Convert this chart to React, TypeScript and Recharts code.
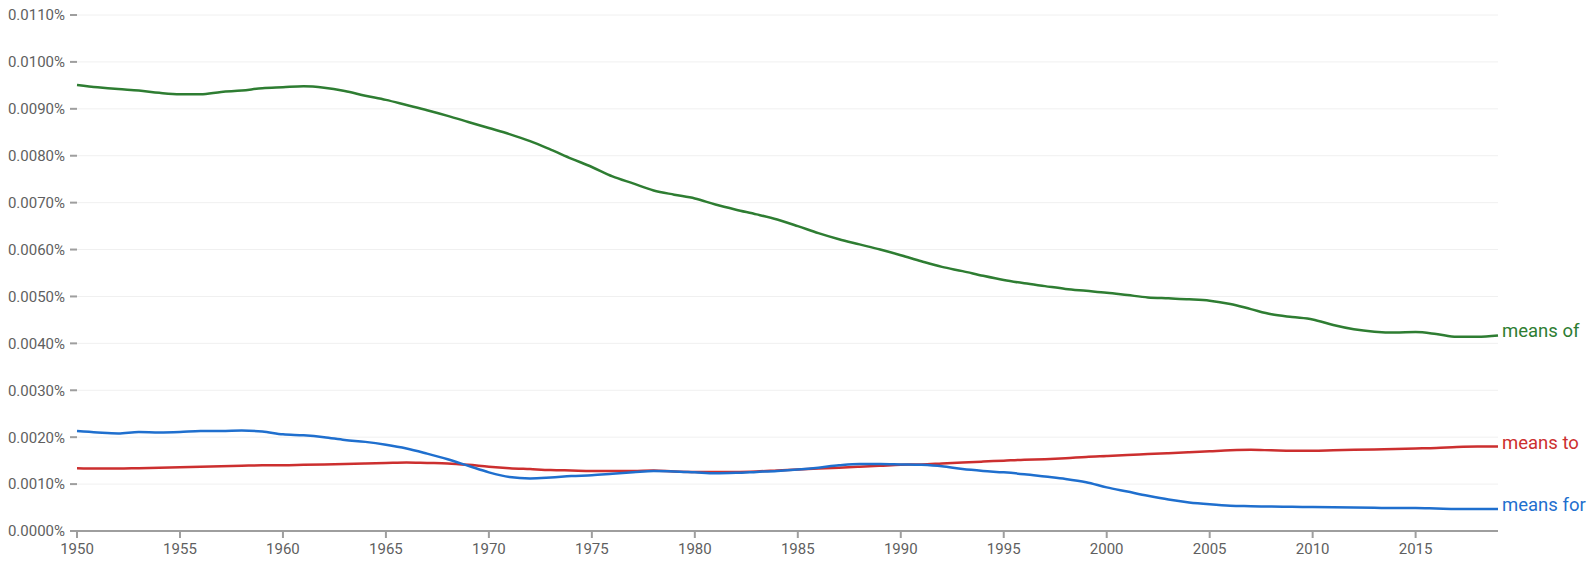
import { LineChart, Line, XAxis, YAxis, CartesianGrid } from "recharts";

// values in units of 0.001 %
const years = Array.from({ length: 70 }, (_, i) => 1950 + i);

const meansOf = [
  9.51, 9.46, 9.42, 9.39, 9.34, 9.31, 9.31, 9.36, 9.39, 9.44,
  9.46, 9.48, 9.45, 9.38, 9.28, 9.19, 9.08, 8.97, 8.85, 8.72,
  8.59, 8.46, 8.31, 8.13, 7.94, 7.76, 7.56, 7.41, 7.26, 7.17,
  7.09, 6.96, 6.85, 6.75, 6.64, 6.5, 6.35, 6.22, 6.11, 6.0,
  5.88, 5.75, 5.63, 5.54, 5.44, 5.35, 5.28, 5.22, 5.16, 5.12,
  5.08, 5.03, 4.98, 4.96, 4.94, 4.91, 4.84, 4.73, 4.62, 4.56,
  4.51, 4.39, 4.3, 4.25, 4.23, 4.24, 4.2, 4.14, 4.14, 4.17,
];

const meansTo = [
  1.34, 1.33, 1.33, 1.34, 1.35, 1.36, 1.37, 1.38, 1.39, 1.4,
  1.4, 1.41, 1.42, 1.43, 1.44, 1.45, 1.46, 1.45, 1.44, 1.41,
  1.37, 1.34, 1.32, 1.3, 1.29, 1.28, 1.28, 1.28, 1.29, 1.27,
  1.26, 1.26, 1.26, 1.27, 1.29, 1.31, 1.33, 1.35, 1.37, 1.39,
  1.41, 1.42, 1.44, 1.46, 1.48, 1.5, 1.52, 1.53, 1.55, 1.58,
  1.6, 1.62, 1.64, 1.66, 1.68, 1.7, 1.72, 1.73, 1.72, 1.71,
  1.71, 1.72, 1.73, 1.74, 1.75, 1.76, 1.77, 1.79, 1.8, 1.8,
];

const meansFor = [
  2.13, 2.1, 2.08, 2.11, 2.1, 2.11, 2.13, 2.13, 2.14, 2.12,
  2.06, 2.04, 2.0, 1.94, 1.9, 1.84, 1.76, 1.65, 1.53, 1.39,
  1.25, 1.15, 1.12, 1.14, 1.17, 1.19, 1.22, 1.25, 1.28, 1.27,
  1.25, 1.23, 1.24, 1.26, 1.28, 1.31, 1.35, 1.4, 1.43, 1.43,
  1.42, 1.41, 1.38, 1.32, 1.28, 1.25, 1.21, 1.16, 1.11, 1.04,
  0.93, 0.84, 0.75, 0.67, 0.61, 0.57, 0.54, 0.53, 0.52, 0.515,
  0.51, 0.505, 0.5, 0.495, 0.49, 0.49, 0.48, 0.47, 0.47, 0.47,
];

const xTicks = [1950, 1955, 1960, 1965, 1970, 1975, 1980, 1985, 1990, 1995, 2000, 2005, 2010, 2015];
const yTicks = [0, 1, 2, 3, 4, 5, 6, 7, 8, 9, 10, 11];

const series = [
  { key: "of", name: "means of", color: "#2e7d32" },
  { key: "to", name: "means to", color: "#cc2f2f" },
  { key: "for", name: "means for", color: "#1f6fce" },
];

const data = years.map((year, i) => ({
  year,
  of: meansOf[i],
  to: meansTo[i],
  for: meansFor[i],
}));

const endLabel = (name: string, color: string) => (p: any) => {
  if (p.index !== data.length - 1) return <g key={p.index} />;
  return (
    <text key={p.index} x={p.x + 4} y={p.y + 2} fill={color} fontSize={18.5} fontFamily="Roboto">
      {name}
    </text>
  );
};

export default function App() {
  return (
    <div style={{ position: "absolute", left: 0, top: 0, background: "#fff" }}>
      <LineChart
        width={1591}
        height={561}
        data={data}
        margin={{ top: 15, right: 93, bottom: 0, left: 0 }}
        style={{ fontFamily: "Roboto" }}
      >
        <CartesianGrid vertical={false} stroke="#f0f0f0" />
        <XAxis
          dataKey="year"
          type="number"
          domain={[1950, 2019]}
          ticks={xTicks}
          height={30}
          axisLine={{ stroke: "#9e9e9e", strokeWidth: 2 }}
          tickLine={{ stroke: "#9e9e9e", strokeWidth: 2 }}
          tickSize={7}
          tickMargin={5}
          tick={{ fill: "#5f5f5f", fontSize: 15 }}
          interval={0}
        />
        <YAxis
          width={77}
          domain={[0, 11]}
          ticks={yTicks}
          axisLine={false}
          tickLine={{ stroke: "#9e9e9e", strokeWidth: 2 }}
          tickSize={7}
          tickMargin={5}
          tick={{ fill: "#5f5f5f", fontSize: 15 }}
          tickFormatter={(v: number) => (v * 0.001).toFixed(4) + "%"}
          interval={0}
        />
        {series.map((s) => (
          <Line
            key={s.key}
            type="monotone"
            dataKey={s.key}
            stroke={s.color}
            strokeWidth={2.5}
            dot={false}
            isAnimationActive={false}
            label={endLabel(s.name, s.color)}
          />
        ))}
      </LineChart>
    </div>
  );
}
